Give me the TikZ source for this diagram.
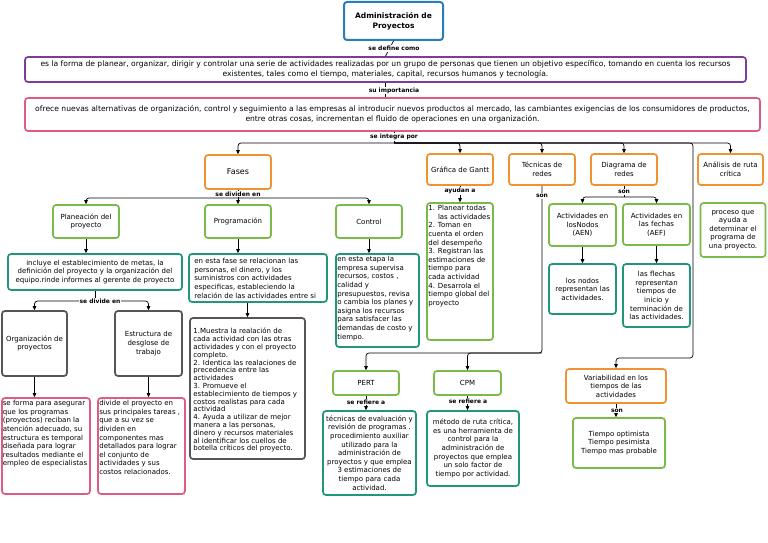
\documentclass[tikz,border=0pt]{standalone}
\usepackage{fontspec}
\setmainfont{DejaVu Sans}
\usetikzlibrary{arrows.meta,calc}
\definecolor{blueC}{RGB}{40,125,190}
\definecolor{purpleC}{RGB}{125,60,150}
\definecolor{pinkC}{RGB}{222,92,128}
\definecolor{orangeC}{RGB}{240,145,50}
\definecolor{greenC}{RGB}{122,186,72}
\definecolor{tealC}{RGB}{32,150,122}
\definecolor{grayC}{RGB}{85,85,85}
\begin{document}
\begin{tikzpicture}[x=1pt,y=-1pt,
 bx/.style={draw, line width=1.7pt, rounded corners=3pt, fill=white, inner sep=1pt, align=center, font=\fontsize{7}{8.6}\selectfont},
 ob/.style={bx, draw=orangeC},
 gb/.style={bx, draw=greenC},
 tb/.style={bx, draw=tealC},
 kb/.style={bx, draw=grayC},
 pb/.style={bx, draw=pinkC},
 txt/.style={inner sep=0pt, align=left, anchor=north west, font=\fontsize{7}{8.6}\selectfont},
 lbl/.style={fill=white, inner sep=0.8pt, font=\bfseries\fontsize{6}{6.5}\selectfont},
 con/.style={draw=black, line width=0.7pt, rounded corners=3pt},
 arr/.style={con, -{Triangle[length=4pt,width=3.6pt]}},
]
\useasboundingbox[fill=white] (0,0) rectangle (768,543);
% coordinates
\coordinate (hub) at (394,143);
\coordinate (vc1) at (693,358);
\coordinate (fj) at (238,198);
\coordinate (dj) at (624,197);
\coordinate (tj) at (542,353);
\coordinate (pj) at (95,301);

% boxes
\node[bx, draw=blueC, line width=2pt, minimum width=99pt, minimum height=38pt, font=\bfseries\fontsize{7.5}{10}\selectfont] (title) at (393.5,21) {Administración de\\Proyectos};
\node[bx, draw=purpleC, minimum width=721pt, minimum height=25pt, font=\fontsize{7.6}{10}\selectfont] (def) at (385.5,69.5) {es la forma de planear, organizar, dirigir y controlar una serie de actividades realizadas por un grupo de personas que tienen un objetivo específico, tomando en cuenta los recursos\\existentes, tales como el tiempo, materiales, capital, recursos humanos y tecnología.};
\node[bx, draw=pinkC, minimum width=735pt, minimum height=33pt, font=\fontsize{7.6}{10}\selectfont] (imp) at (392.5,114.5) {ofrece nuevas alternativas de organización, control y seguimiento a las empresas al introducir nuevos productos al mercado, las cambiantes exigencias de los consumidores de productos,\\entre otras cosas, incrementan el fluido de operaciones en una organización.};

\node[ob, minimum width=66pt, minimum height=34pt, font=\fontsize{8}{9}\selectfont] (fases) at (238,172) {Fases};
\node[ob, minimum width=66pt, minimum height=31pt] (gantt) at (460,169.5) {Gráfica de Gantt};
\node[ob, minimum width=66pt, minimum height=31pt] (tec) at (542,169.5) {Técnicas de\\redes};
\node[ob, minimum width=66pt, minimum height=31pt] (diag) at (624,169.5) {Diagrama de\\redes};
\node[ob, minimum width=65pt, minimum height=31pt] (anal) at (730.5,169.5) {Análisis de ruta\\crítica};

\node[gb, minimum width=66pt, minimum height=33pt] (plan) at (86,221.5) {Planeación del\\proyecto};
\node[gb, minimum width=66pt, minimum height=33pt] (prog) at (238,221.5) {Programación};
\node[gb, minimum width=66pt, minimum height=33pt] (ctrl) at (369,221.5) {Control};

\node[tb, minimum width=174pt, minimum height=36pt] (pdet) at (95,272) {incluye el establecimiento de metas, la\\definición del proyecto y la organización del\\equipo.rinde informes al gerente de proyecto};
\node[tb, minimum width=138pt, minimum height=48pt] (progdet) at (258,278) {};
\node[txt] (progdet-t) at ([shift={(6,5)}]progdet.north west) {en esta fase se relacionan las\\personas, el dinero, y los\\suministros con actividades\\especificas, estableciendo la\\relación de las actividades entre si};
\node[tb, minimum width=83pt, minimum height=93pt] (cdet) at (377.5,300.5) {};
\node[txt] (cdet-t) at ([shift={(2,3)}]cdet.north west) {en esta etapa la\\empresa supervisa\\recursos, costos ,\\calidad y\\presupuestos, revisa\\o cambia los planes y\\asigna los recursos\\para satisfacer las\\demandas de costo y\\tiempo.};
\node[gb, minimum width=66pt, minimum height=137pt] (gdet) at (460,271.5) {};
\node[txt] (gdet-t) at ([shift={(2,3)}]gdet.north west) {1. Planear todas\\\phantom{1. }las actividades\\2. Toman en\\cuenta el orden\\del desempeño\\3. Registran las\\estimaciones de\\tiempo para\\cada actividad\\4. Desarrola el\\tiempo global del\\proyecto};

\node[gb, minimum width=67pt, minimum height=42pt] (aen) at (582.5,225) {Actividades en\\losNodos\\(AEN)};
\node[gb, minimum width=67pt, minimum height=41pt] (aef) at (656.5,224.5) {Actividades en\\las fechas\\(AEF)};
\node[tb, minimum width=67pt, minimum height=50pt] (aen2) at (582.5,289) {los nodos\\representan las\\actividades.};
\node[tb, minimum width=67pt, minimum height=63pt] (aef2) at (656.5,295.5) {las flechas\\representan\\tiempos de\\inicio y\\terminación de\\las actividades.};
\node[gb, minimum width=65pt, minimum height=54pt] (adet) at (733,230) {proceso que\\ayuda a\\determinar el\\programa de\\una proyecto.};

\node[kb, minimum width=65pt, minimum height=65pt] (org) at (34.5,343.5) {Organización de\\proyectos};
\node[kb, minimum width=67pt, minimum height=65pt] (est) at (148.5,343.5) {Estructura de\\desglose de\\trabajo};
\node[pb, minimum width=88pt, minimum height=96pt] (pink1) at (46,446) {};
\node[txt] (pink1-t) at ([shift={(1.5,3)}]pink1.north west) {se forma para asegurar\\que los programas\\(proyectos) reciban la\\atención adecuado, su\\estructura es temporal\\diseñada para lograr\\resultados mediante el\\empleo de especialistas};
\node[pb, minimum width=87pt, minimum height=96pt] (pink2) at (141.5,446) {};
\node[txt] (pink2-t) at ([shift={(2,3)}]pink2.north west) {divide el proyecto en\\sus principales tareas ,\\que a su vez se\\dividen en\\componentes mas\\detallados para lograr\\el conjunto de\\actividades y sus\\costos relacionados.};
\node[kb, minimum width=115pt, minimum height=141pt] (prog2) at (247.5,388.5) {};
\node[txt, font=\fontsize{7}{7.8}\selectfont] (prog2-t) at ([shift={(4,11)}]prog2.north west) {1.Muestra la realación de\\cada actividad con las otras\\actividades y con el proyecto\\completo.\\2. Identica las realaciones de\\precedencia entre las\\actividades\\3. Promueve el\\establecimiento de tiempos y\\costos realistas para cada\\actividad\\4. Ayuda a utilizar de mejor\\manera a las personas,\\dinero y recursos materiales\\al identificar los cuellos de\\botella críticos del proyecto.};

\node[gb, minimum width=66pt, minimum height=24pt] (pert) at (366,383) {PERT};
\node[gb, minimum width=67pt, minimum height=24pt] (cpm) at (467.5,383) {CPM};
\node[tb, minimum width=93pt, minimum height=84pt] (pertdet) at (369.5,453) {técnicas de evaluación y\\revisión de programas .\\procedimiento auxiliar\\utilizado para la\\administración de\\proyectos y que emplea\\3 estimaciones de\\tiempo para cada\\actividad.};
\node[tb, minimum width=92pt, minimum height=75pt] (cpmdet) at (473,448.5) {método de ruta crítica,\\es una herramienta de\\control para la\\administración de\\proyectos que emplea\\un solo factor de\\tiempo por actividad.};

\node[ob, minimum width=100pt, minimum height=34pt] (var) at (616,386) {Variabilidad en los\\tiempos de las\\actividades};
\node[gb, minimum width=92pt, minimum height=50pt] (vdet) at (619,443) {Tiempo optimista\\Tiempo pesimista\\Tiempo mas probable};

% connectors
\draw[con] (title.south) -- (def.north);
\draw[con] (def.south) -- (imp.north -| def.south);
\draw[con] (imp.south -| hub) -- (hub);
\draw[arr] (hub) -| (fases.north);
\draw[arr] (hub) -| (gantt.north);
\draw[arr] (hub) -| (tec.north);
\draw[arr] (hub) -| (diag.north);
\draw[arr] (hub) -| (anal.north);
\draw[arr] (hub) -| (vc1) -| (var.north);

\draw[con] (fases.south) -- (fj);
\draw[arr] (fj) -| (plan.north);
\draw[arr] (fj) -- (prog.north);
\draw[arr] (fj) -| (ctrl.north);

\draw[arr] (gantt.south) -- (gdet.north);
\draw[arr] (tec.south) -- (tj) -| (pert.north);
\draw[arr] (tj) -| (cpm.north);
\draw[con] (diag.south) -- (dj);
\draw[arr] (dj) -| (aen.north);
\draw[arr] (dj) -| (aef.north);
\draw[arr] (aen.south) -- (aen2.north);
\draw[arr] (aef.south) -- (aef2.north);

\draw[arr] (plan.south) -- (plan.south |- pdet.north);
\draw[arr] (prog.south) -- (prog.south |- progdet.north);
\draw[arr] (ctrl.south) -- (ctrl.south |- cdet.north);
\draw[arr] (prog2.north |- progdet.south) -- (prog2.north);

\draw[con] (pdet.south) -- (pj);
\draw[arr] (pj) -| (org.north);
\draw[arr] (pj) -| (est.north);
\draw[arr] (org.south) -- (org.south |- pink1.north);
\draw[arr] (est.south) -- (est.south |- pink2.north);

\draw[arr] (pert.south) -- (pert.south |- pertdet.north);
\draw[arr] (cpm.south) -- (cpm.south |- cpmdet.north);
\draw[arr] (var.south) -- (var.south |- vdet.north);

% labels
\node[lbl] (l-def) at (394,48.5) {se define como};
\node[lbl] (l-imp) at (394,90.5) {su importancia};
\node[lbl] (l-int) at (394,137) {se integra por};
\node[lbl] (l-fas) at (238,194) {se dividen en};
\node[lbl] (l-gan) at (460,191) {ayudan a};
\node[lbl] (l-tec) at (542,196) {son};
\node[lbl] (l-dia) at (624,192) {son};
\node[lbl] (l-pla) at (100,301) {se divide en};
\node[lbl] (l-per) at (366,402) {se refiere a};
\node[lbl] (l-cpm) at (468,401) {se refiere a};
\node[lbl] (l-var) at (617,410.5) {son};
\end{tikzpicture}
\end{document}
